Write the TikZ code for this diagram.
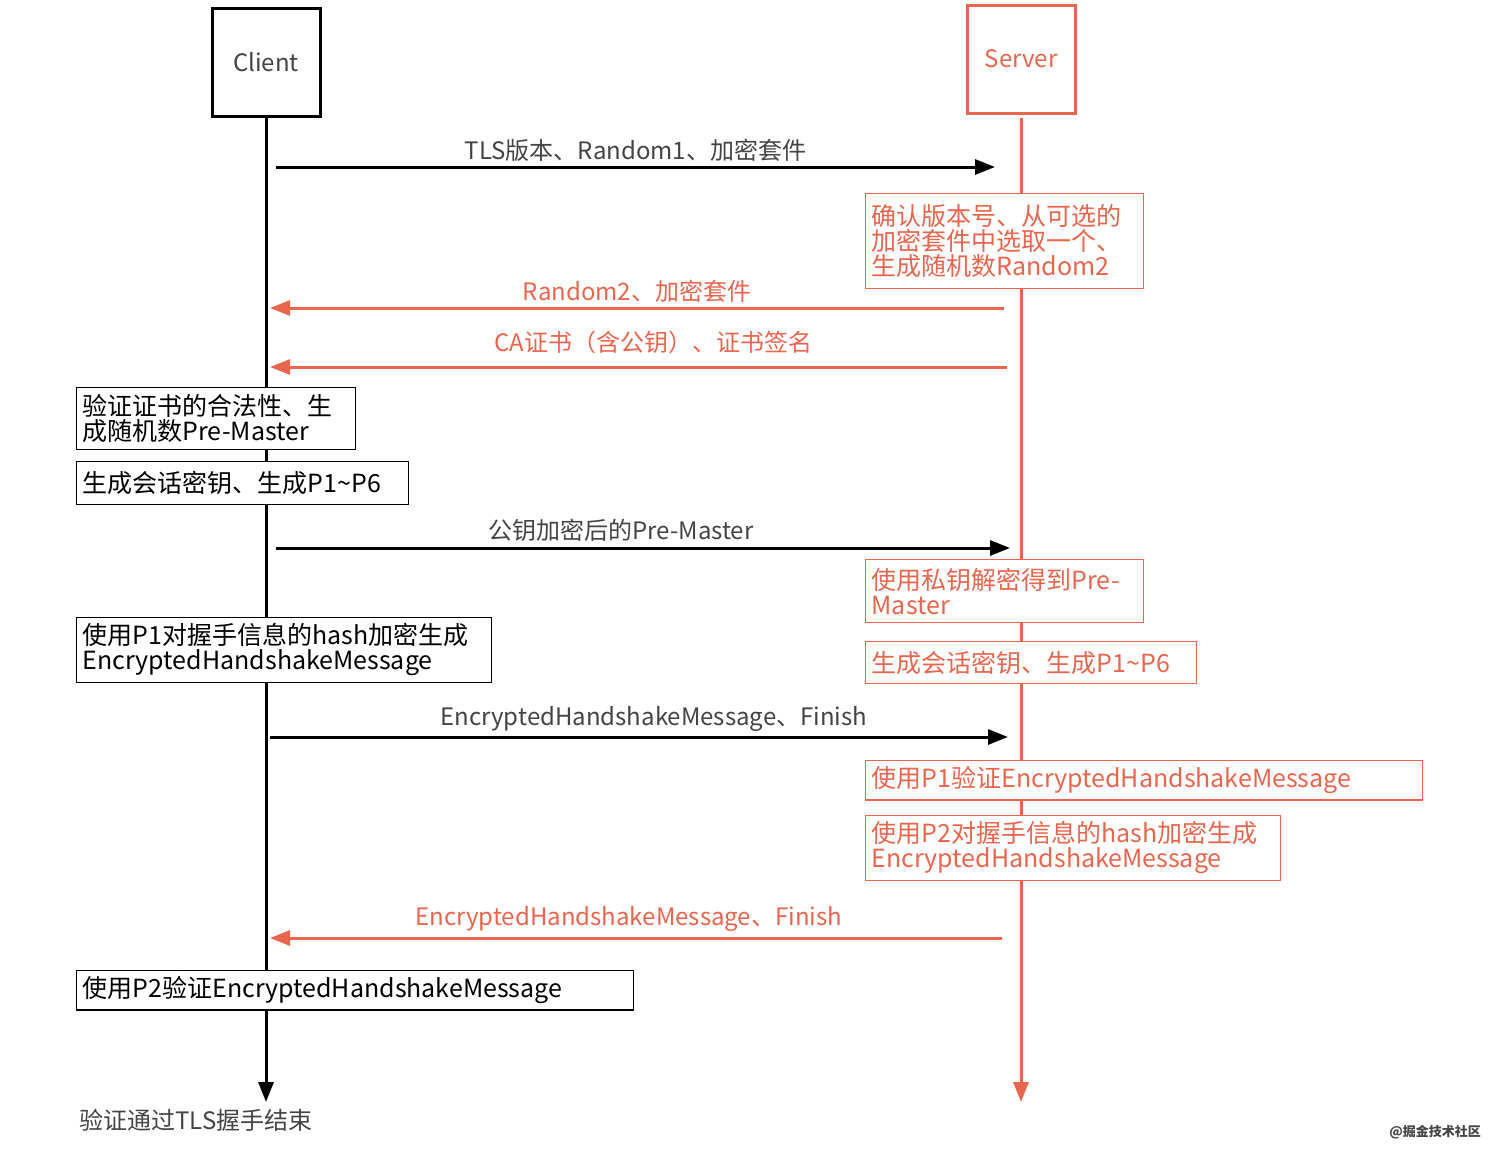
\documentclass[tikz,border=0pt]{standalone}
\usepackage{fontspec}
\setmainfont{Noto Sans CJK SC}
\usetikzlibrary{arrows.meta}
\definecolor{rd}{HTML}{E8664E}
\definecolor{gt}{HTML}{444444}
\begin{document}
\begin{tikzpicture}[x=1pt,y=-1pt,
  hd/.style={draw, line width=3pt, minimum width=108pt, minimum height=108pt, font=\fontsize{24}{26}\selectfont},
  box/.style={draw, line width=1.3pt, fill=white, anchor=north west, inner sep=6pt, align=left, font=\fontsize{25}{25}\selectfont},
  lbl/.style={font=\fontsize{24}{26}\selectfont},
  msg/.style={line width=3pt, -{Triangle[length=20pt,width=15pt]}},
  life/.style={line width=3pt, -{Triangle[length=20pt,width=15pt]}}]
\useasboundingbox (0,0) rectangle (1512,1162);
\node[hd, text=gt] (client) at (266,62) {Client};
\node[hd, draw=rd, text=rd] (server) at (1021,59) {Server};
\coordinate (cend) at (266,1102);
\coordinate (send) at (1021,1102);
\draw[life] (client.south) -- (cend);
\draw[life, rd] (1021,118) -- (send);
% boxes
\node[box, draw=rd, text=rd, text width=266pt, minimum height=95pt] (b1) at (865,193) {确认版本号、从可选的\\加密套件中选取一个、\\生成随机数Random2};
\node[box, text width=267pt, minimum height=62pt] (b2) at (76,387) {验证证书的合法性、生\\成随机数Pre-Master};
\node[box, text width=320pt, minimum height=43pt] (b3) at (76,461) {生成会话密钥、生成P1\textasciitilde P6};
\node[box, draw=rd, text=rd, text width=266pt, minimum height=63pt] (b4) at (865,559) {使用私钥解密得到Pre-\\Master};
\node[box, text width=403pt, minimum height=63pt] (b5) at (76,617) {使用P1对握手信息的hash加密生成\\EncryptedHandshakeMessage};
\node[box, draw=rd, text=rd, text width=319pt, minimum height=42pt] (b6) at (865,641) {生成会话密钥、生成P1\textasciitilde P6};
\node[box, draw=rd, text=rd, text width=545pt, minimum height=37pt] (b7) at (865,760) {使用P1验证EncryptedHandshakeMessage};
\node[box, draw=rd, text=rd, text width=403pt, minimum height=63pt] (b8) at (865,815) {使用P2对握手信息的hash加密生成\\EncryptedHandshakeMessage};
\node[box, text width=545pt, minimum height=38pt] (b9) at (76,970) {使用P2验证EncryptedHandshakeMessage};
% messages
\coordinate (m1a) at (276,167); \coordinate (m1b) at (995,167);
\draw[msg] (m1a) -- node[lbl, text=gt, above=1pt] {TLS版本、Random1、加密套件} (m1b);
\coordinate (m2a) at (1004,308); \coordinate (m2b) at (270,308);
\draw[msg, rd] (m2a) -- node[lbl, text=rd, above=1pt] {Random2、加密套件} (m2b);
\coordinate (m3a) at (1007,367); \coordinate (m3b) at (270,367);
\draw[msg, rd] (m3a) -- node[lbl, text=rd, above=8pt, pos=0.48] {CA证书（含公钥）、证书签名} (m3b);
\coordinate (m4a) at (276,548); \coordinate (m4b) at (1010,548);
\draw[msg] (m4a) -- node[lbl, text=gt, above=2pt, pos=0.47] {公钥加密后的Pre-Master} (m4b);
\coordinate (m5a) at (270,737); \coordinate (m5b) at (1008,737);
\draw[msg] (m5a) -- node[lbl, text=gt, above=1pt, pos=0.52] {EncryptedHandshakeMessage、Finish} (m5b);
\coordinate (m6a) at (1002,938); \coordinate (m6b) at (270,938);
\draw[msg, rd] (m6a) -- node[lbl, text=rd, above=2pt, pos=0.51] {EncryptedHandshakeMessage、Finish} (m6b);
\node[lbl, text=gt] (end) at (196,1120) {验证通过TLS握手结束};
\node[font=\fontsize{13}{14}\selectfont\bfseries, text=gt] (wm) at (1435,1132) {@掘金技术社区};
\end{tikzpicture}
\end{document}
